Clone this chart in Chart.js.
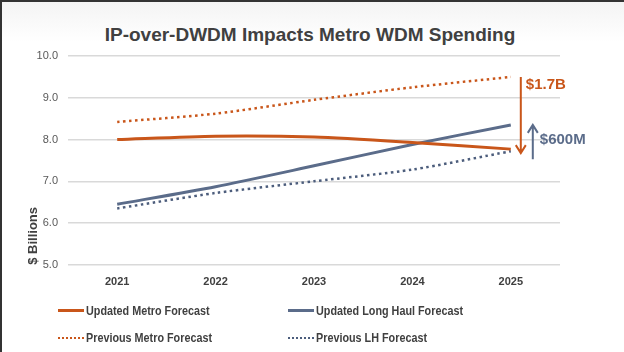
<!DOCTYPE html>
<html lang="en">
<head>
    <meta charset="UTF-8">
    <title>IP-over-DWDM Impacts Metro WDM Spending</title>
    <script src="https://cdn.jsdelivr.net/npm/chart.js"></script>
    <style>
        html, body {
            margin: 0;
            padding: 0;
            background: #fff;
        }
        .frame {
            position: relative;
            width: 622px;
            height: 350px;
            border-left: 2px solid #333;
            border-top: 2px solid #333;
            background: linear-gradient(#f4f4f4, #fff 40px);
            font-family: "Liberation Sans", Arial, sans-serif;
        }
        #chart {
            position: absolute;
            left: 0;
            top: 0;
        }
        .title {
            position: absolute;
            left: 0;
            width: 616px;
            top: 22px;
            text-align: center;
            font-size: 19px;
            font-weight: bold;
            color: #404040;
        }
        .legend {
            position: absolute;
            left: 56px;
            top: 300px;
            width: 520px;
            display: grid;
            grid-template-columns: 230px 290px;
            row-gap: 10px;
            font-weight: bold;
            font-size: 13.5px;
            color: #404040;
        }
        .legend span.item {
            display: flex;
            align-items: center;
            height: 17px;
            white-space: nowrap;
        }
        .legend span.swatch {
            display: inline-block;
            width: 26px;
            margin-right: 2px;
        }
        /* the original legend font is a narrow face */
        .legend span.txt {
            display: inline-block;
            transform: scaleX(0.8);
            transform-origin: left center;
        }
    </style>
</head>
<body>
<div class="frame">
    <div class="title">IP-over-DWDM Impacts Metro WDM Spending</div>
    <canvas id="chart" width="622" height="350"></canvas>
    <div class="legend" id="legend"></div>
</div>

<script>
    // data
    const years = ['2021', '2022', '2023', '2024', '2025'];
    const updatedMetro = [8.0, 8.08, 8.06, 7.93, 7.77];
    const updatedLongHaul = [6.45, 6.87, 7.37, 7.88, 8.35];
    const previousMetro = [8.42, 8.62, 8.95, 9.25, 9.5];
    const previousLH = [6.35, 6.72, 7.0, 7.28, 7.72];
    const yTicks = [5, 6, 7, 8, 9, 10];

    const orange = '#c9561a';
    const slate = '#5b6c8a';
    const slateDark = '#4c5d7c';

    // arrows + labels at the 2025 end
    const gapArrows = {
        id: 'gapArrows',
        afterDatasetsDraw(chart) {
            const { ctx, scales: { x, y } } = chart;
            const last = years.length - 1;
            const x25 = x.getPixelForValue(last);

            function arrow(px, fromVal, toVal, color, offFrom, offTo) {
                const y1 = y.getPixelForValue(fromVal) + offFrom;
                const y2 = y.getPixelForValue(toVal) + offTo;
                const dir = y2 > y1 ? 1 : -1;
                ctx.save();
                ctx.strokeStyle = color;
                ctx.lineWidth = 2;
                ctx.beginPath();
                ctx.moveTo(px, y1);
                ctx.lineTo(px, y2);
                ctx.moveTo(px - 5, y2 - dir * 8);
                ctx.lineTo(px, y2);
                ctx.lineTo(px + 5, y2 - dir * 8);
                ctx.stroke();
                ctx.restore();
            }

            arrow(x25 + 10, previousMetro[last], updatedMetro[last], orange, 0, 4);
            arrow(x25 + 22, previousLH[last], updatedLongHaul[last], slate, 8, 0);

            ctx.save();
            ctx.font = 'bold 15px "Liberation Sans", Arial, sans-serif';
            ctx.textBaseline = 'middle';
            ctx.fillStyle = orange;
            ctx.fillText('$1.7B', x25 + 15, y.getPixelForValue(previousMetro[last]) + 8);
            ctx.fillStyle = slate;
            const midLH = (previousLH[last] + updatedLongHaul[last]) / 2;
            ctx.fillText('$600M', x25 + 29, y.getPixelForValue(midLH) + 2);
            ctx.restore();
        }
    };

    const ctx = document.getElementById('chart').getContext('2d');
    const chart = new Chart(ctx, {
        type: 'line',
        data: {
            labels: years,
            datasets: [
                {
                    label: 'Updated Metro Forecast',
                    data: updatedMetro,
                    borderColor: orange,
                    borderWidth: 3,
                    tension: 0.25
                },
                {
                    label: 'Updated Long Haul Forecast',
                    data: updatedLongHaul,
                    borderColor: slate,
                    borderWidth: 3,
                    tension: 0.25
                },
                {
                    label: 'Previous Metro Forecast',
                    data: previousMetro,
                    borderColor: orange,
                    borderWidth: 2.5,
                    borderDash: [2.5, 3.5],
                    tension: 0.25
                },
                {
                    label: 'Previous LH Forecast',
                    data: previousLH,
                    borderColor: slateDark,
                    borderWidth: 2.5,
                    borderDash: [2.5, 3.5],
                    tension: 0.25
                }
            ]
        },
        options: {
            responsive: false,
            animation: false,
            elements: { point: { radius: 0 } },
            layout: { padding: { left: 20, right: 64, top: 54, bottom: 60 } },
            plugins: {
                legend: { display: false },
                tooltip: { enabled: false },
                title: { display: false }
            },
            scales: {
                x: {
                    offset: true,
                    grid: { display: false },
                    border: { display: false },
                    ticks: {
                        color: '#404040',
                        font: { family: '"Liberation Sans", Arial, sans-serif', size: 11, weight: 'bold' }
                    }
                },
                y: {
                    min: 5,
                    max: 10,
                    afterBuildTicks: axis => { axis.ticks = yTicks.map(v => ({ value: v })); },
                    afterFit: axis => { axis.width = 46; },
                    grid: { color: '#d9d9d9', lineWidth: 1.5, drawTicks: false },
                    border: { display: false },
                    ticks: {
                        padding: 10,
                        color: '#595959',
                        font: { family: '"Liberation Sans", Arial, sans-serif', size: 11 },
                        callback: v => v.toFixed(1)
                    },
                    title: {
                        display: true,
                        text: '$ Billions',
                        align: 'start',
                        color: '#404040',
                        font: { family: '"Liberation Sans", Arial, sans-serif', size: 13, weight: 'bold' },
                        padding: { bottom: 0 }
                    }
                }
            }
        },
        plugins: [gapArrows]
    });

    // two-column legend built from the datasets
    const legendEl = document.getElementById('legend');
    [0, 1, 2, 3].forEach(i => {
        const ds = chart.data.datasets[i];
        const item = document.createElement('span');
        item.className = 'item';
        const sw = document.createElement('span');
        sw.className = 'swatch';
        sw.style.borderTop = ds.borderDash ? '2.5px dotted ' + ds.borderColor : '3px solid ' + ds.borderColor;
        const txt = document.createElement('span');
        txt.className = 'txt';
        txt.textContent = ds.label;
        item.appendChild(sw);
        item.appendChild(txt);
        legendEl.appendChild(item);
    });
</script>
</body>
</html>
